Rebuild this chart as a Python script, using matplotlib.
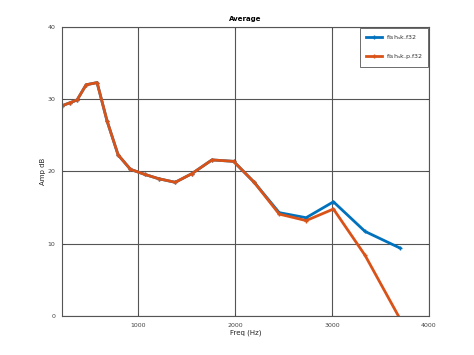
import matplotlib
matplotlib.use("Agg")
import matplotlib.pyplot as plt

freq = [213, 292, 368, 461, 574, 677, 791, 918, 1065, 1209, 1381, 1553, 1760, 1983,
        2196, 2454, 2732, 3014, 3340, 3701]
amp_k = [29.1, 29.5, 29.9, 32.0, 32.3, 27.0, 22.3, 20.3, 19.6, 19.0, 18.5, 19.7, 21.6, 21.4,
         18.5, 14.3, 13.6, 15.8, 11.7, 9.4]
amp_kp = [29.1, 29.5, 29.9, 32.0, 32.3, 27.0, 22.3, 20.3, 19.6, 19.0, 18.5, 19.7, 21.6, 21.4,
          18.5, 14.1, 13.2, 14.8, 8.4, -0.4]
labels = ["fish$_{s}$k.f32", "fish$_{s}$k.p.f32"]
xticks = [1000, 2000, 3000, 4000]
yticks = [0, 10, 20, 30, 40]

fig = plt.figure(figsize=(4.74, 3.55), dpi=100)
ax = fig.add_axes([0.131, 0.110, 0.774, 0.814])
ax.plot(freq, amp_k, color="#0072BD", lw=2, marker="+", ms=3.5, mew=1, label=labels[0])
ax.plot(freq, amp_kp, color="#D95319", lw=2, marker="+", ms=3.5, mew=1, label=labels[1])
ax.set_xlim(freq[0], 4000)
ax.set_ylim(0, 40)
ax.set_xticks(xticks)
ax.set_yticks(yticks)
ax.grid(True, color="#555555", lw=0.8)
ax.set_axisbelow(True)
ax.tick_params(labelsize=4.5, colors="#444444", length=2.5, width=0.5, direction="in",
               top=True, right=True, pad=5)
for s in ax.spines.values():
    s.set_color("#555555")
    s.set_linewidth(0.8)
ax.set_title("Average", fontsize=5, fontweight="bold", pad=4)
ax.set_xlabel("Freq (Hz)", fontsize=5, labelpad=1, color="#222222")
ax.set_ylabel("Amp dB", fontsize=5, labelpad=1, color="#222222")
leg = ax.legend(loc="upper right", fontsize=4.5, handlelength=2.6, handletextpad=0.6,
                borderpad=0.9, labelspacing=1.6, fancybox=False, framealpha=1,
                edgecolor="#555555", borderaxespad=0.15)
leg.get_frame().set_linewidth(0.6)
for t in leg.get_texts():
    t.set_color("#333333")
fig.savefig("out.png", dpi=100)
